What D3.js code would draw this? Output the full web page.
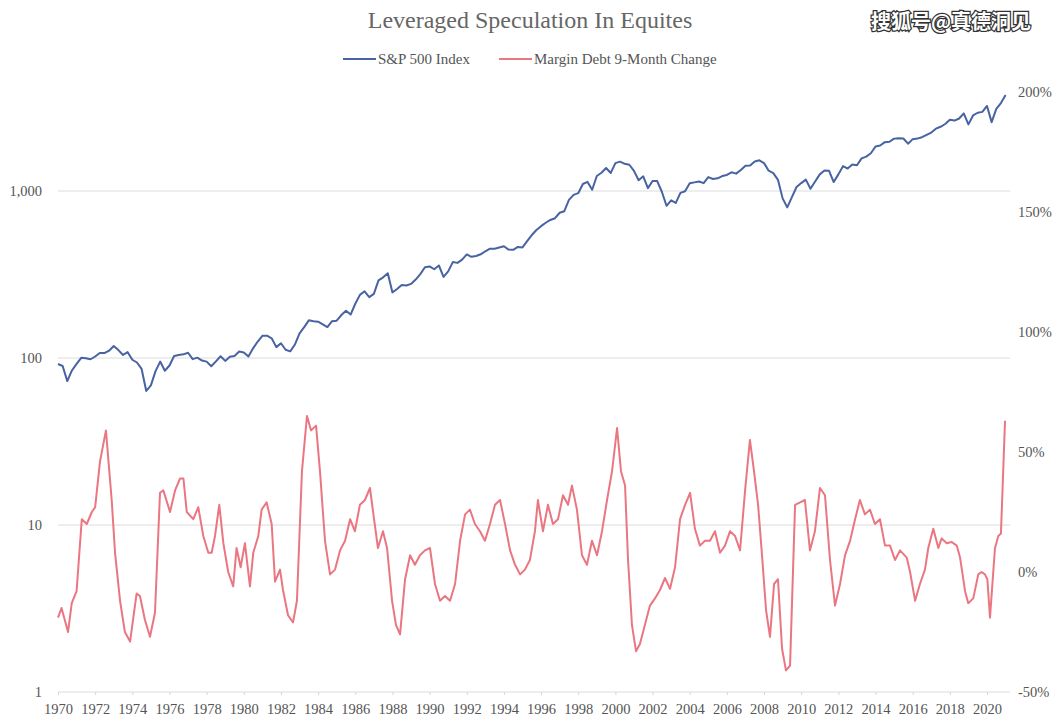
<!DOCTYPE html>
<html>
<head>
<meta charset="utf-8">
<script src="https://cdn.jsdelivr.net/npm/d3@7"></script>
<style>
  body { margin: 0; background: #fff; }
  text { font-family: 'Liberation Serif', 'DejaVu Serif', serif; }
</style>
</head>
<body>
<svg width="1059" height="726"></svg>
<script>
// S&P 500 quarter-end closes, starting Dec 1969
var spxStart = 1970
var spxValues = [
  92.1,
  89.6, 72.7, 84.2, 92.2,
  100.3, 99.7, 98.3, 102.1,
  107.2, 107.1, 110.6, 118.1,
  111.5, 104.3, 108.4, 97.6,
  94.0, 86.0, 63.5, 68.6,
  83.4, 95.2, 83.9, 90.2,
  102.8, 104.3, 105.2, 107.5,
  98.4, 100.5, 96.5, 95.1,
  89.2, 95.5, 102.5, 96.1,
  101.6, 102.9, 109.3, 107.9,
  102.1, 114.2, 125.5, 135.8,
  136.0, 131.2, 116.2, 122.6,
  112.0, 109.6, 120.4, 140.6,
  153.0, 168.1, 166.1, 164.9,
  159.2, 153.2, 166.1, 167.2,
  180.7, 191.9, 182.1, 211.3,
  238.9, 250.8, 231.3, 242.2,
  291.7, 304.0, 321.8, 247.1,
  258.9, 273.5, 271.9, 277.7,
  294.9, 318.0, 349.2, 353.4,
  339.9, 358.0, 306.1, 330.2,
  375.2, 371.2, 387.9, 417.1,
  403.7, 408.1, 417.8, 435.7,
  451.7, 450.5, 458.9, 466.5,
  445.8, 444.3, 462.7, 459.3,
  500.7, 544.8, 584.4, 615.9,
  645.5, 670.6, 687.3, 740.7,
  757.1, 885.1, 947.3, 970.4,
  1101.8, 1133.8, 1017.0, 1229.2,
  1286.4, 1372.7, 1282.7, 1469.3,
  1498.6, 1454.6, 1436.5, 1320.3,
  1160.3, 1224.4, 1040.9, 1148.1,
  1147.4, 989.8, 815.3, 879.8,
  848.2, 974.5, 996.0, 1111.9,
  1126.2, 1140.8, 1114.6, 1211.9,
  1180.6, 1191.3, 1228.8, 1248.3,
  1294.8, 1270.2, 1335.9, 1418.3,
  1420.9, 1503.4, 1526.8, 1468.4,
  1322.7, 1280.0, 1166.4, 903.3,
  797.9, 919.3, 1057.1, 1115.1,
  1169.4, 1030.7, 1141.2, 1257.6,
  1325.8, 1320.6, 1131.4, 1257.6,
  1408.5, 1362.2, 1440.7, 1426.2,
  1569.2, 1606.3, 1681.6, 1848.4,
  1872.3, 1960.2, 1972.3, 2058.9,
  2067.9, 2063.1, 1920.0, 2043.9,
  2059.7, 2098.9, 2168.3, 2238.8,
  2362.7, 2423.4, 2519.4, 2673.6,
  2640.9, 2718.4, 2914.0, 2506.9,
  2834.4, 2941.8, 2976.7, 3230.8,
  2584.6, 3100.3, 3363.0, 3756.1
]

// margin debt 9-month change (year, change in %)
var marginYears = [
  1970.00, 1970.19, 1970.54, 1970.74, 1971.00, 1971.28, 1971.55, 1971.82, 1972.00, 1972.26,
  1972.58, 1972.89, 1973.07, 1973.34, 1973.60, 1973.88, 1974.23, 1974.41, 1974.68, 1974.95,
  1975.22, 1975.49, 1975.67, 1976.03, 1976.30, 1976.57, 1976.75, 1976.93, 1977.28, 1977.55,
  1977.82, 1978.09, 1978.27, 1978.45, 1978.68, 1978.90, 1979.16, 1979.43, 1979.61, 1979.83,
  1980.06, 1980.33, 1980.51, 1980.78, 1980.96, 1981.23, 1981.50, 1981.68, 1981.95, 1982.11,
  1982.38, 1982.65, 1982.86, 1983.13, 1983.40, 1983.62, 1983.89, 1984.10, 1984.37, 1984.64,
  1984.91, 1985.18, 1985.45, 1985.72, 1985.98, 1986.25, 1986.52, 1986.79, 1987.01, 1987.22,
  1987.49, 1987.71, 1987.98, 1988.19, 1988.41, 1988.68, 1988.95, 1989.21, 1989.48, 1989.75,
  1990.02, 1990.29, 1990.56, 1990.83, 1991.10, 1991.37, 1991.64, 1991.91, 1992.17, 1992.44,
  1992.71, 1992.98, 1993.25, 1993.52, 1993.79, 1994.06, 1994.33, 1994.60, 1994.87, 1995.13,
  1995.40, 1995.67, 1995.83, 1996.10, 1996.37, 1996.64, 1996.91, 1997.18, 1997.45, 1997.66,
  1997.93, 1998.20, 1998.47, 1998.74, 1999.01, 1999.28, 1999.55, 1999.82, 2000.09, 2000.30,
  2000.52, 2000.68, 2000.89, 2001.11, 2001.32, 2001.59, 2001.86, 2002.13, 2002.40, 2002.67,
  2002.94, 2003.21, 2003.48, 2003.75, 2004.02, 2004.28, 2004.55, 2004.82, 2005.09, 2005.36,
  2005.63, 2005.90, 2006.17, 2006.44, 2006.71, 2006.98, 2007.24, 2007.46, 2007.68, 2007.89,
  2008.11, 2008.32, 2008.54, 2008.75, 2008.97, 2009.18, 2009.40, 2009.67, 2009.94, 2010.20,
  2010.47, 2010.74, 2011.01, 2011.28, 2011.55, 2011.82, 2012.09, 2012.36, 2012.63, 2012.90,
  2013.16, 2013.43, 2013.70, 2013.97, 2014.24, 2014.51, 2014.78, 2015.05, 2015.32, 2015.68,
  2015.86, 2016.13, 2016.39, 2016.66, 2016.84, 2017.11, 2017.38, 2017.56, 2017.83, 2018.10,
  2018.37, 2018.55, 2018.82, 2018.99, 2019.26, 2019.53, 2019.71, 2019.89, 2020.02, 2020.16,
  2020.43, 2020.61, 2020.75, 2020.97
]
var marginChange = [
  -19, -15, -25, -13, -8, 22, 20, 25, 27, 46,
  59, 30, 8, -12, -25, -29, -9, -10, -20, -27,
  -17, 33, 34, 25, 34, 39, 39, 25, 22, 27,
  15, 8, 8, 15, 28, 12, 0, -6, 10, 2,
  12, -6, 8, 15, 26, 29, 20, -4, 1, -7.5,
  -18, -21, -12, 42, 65, 59, 61, 42, 13, -1,
  1, 9, 13, 22, 17, 28, 30, 35, 22, 10,
  17, 10, -12, -22, -26, -3, 7, 3, 7, 9,
  10, -5, -12, -10, -12, -5, 13, 24, 26, 20,
  17, 13, 20, 28, 30, 20, 9, 3, -1, 1,
  5, 17, 30, 17, 28, 20, 22, 32, 28, 36,
  26, 7, 3, 13, 7, 17, 30, 42, 60, 42,
  36, 5, -22, -33, -30, -22, -14, -11, -7.5, -2.5,
  -7, 2, 22, 28, 33, 18, 11, 13, 13, 17,
  8, 11, 17, 15, 9, 34, 55, 42, 28, 7,
  -16, -27, -5, -3, -32, -41, -39, 28, 29, 30,
  9, 17, 35, 32, 5, -14, -5, 7, 13, 22,
  30, 24, 26, 20, 22, 11, 11, 5, 9, 6,
  0, -12, -5, 1, 10, 18, 10, 14, 12, 12.5,
  11, 6, -8, -13, -11, -1, 0, -1, -3, -19,
  10, 15, 16, 63
]

var yearTicks = d3.range(1970, 2021, 2)
var leftTicks = [1, 10, 100, 1000]
var rightTicks = [-0.5, 0, 0.5, 1, 1.5, 2]

var blue = '#4763a2'
var red = '#ea7682'

var svg = d3.select('svg')

var x = d3.scaleLinear().domain([1970, 2020]).range([58, 987])
var yLeft = d3.scaleLog().domain([1, 10000]).range([692, 24])
var yRight = d3.scaleLinear().domain([-0.5, 2]).range([692, 92])
var xEnd = x(2021.25)

// gridlines for the log axis
svg.append('g')
  .selectAll('line')
  .data(leftTicks)
  .enter()
  .append('line')
  .attr('x1', x(1970))
  .attr('x2', xEnd)
  .attr('y1', function(d) { return yLeft(d) })
  .attr('y2', function(d) { return yLeft(d) })
  .attr('stroke', '#dcdcdc')
  .attr('stroke-width', 1)

var xAxis = svg.append('g')
  .attr('transform', 'translate(0,' + yLeft(1) + ')')
  .call(d3.axisBottom(x).tickValues(yearTicks).tickFormat(d3.format('d')).tickSize(3).tickPadding(9))
xAxis.select('.domain').remove()
xAxis.selectAll('line').attr('stroke', '#d6d6d6')
xAxis.selectAll('text').attr('fill', '#555').style('font-size', '14.5px')

var leftAxis = svg.append('g')
  .attr('transform', 'translate(58,0)')
  .call(d3.axisLeft(yLeft).tickValues(leftTicks).tickFormat(d3.format(',')).tickSize(0).tickPadding(16))
leftAxis.select('.domain').remove()
leftAxis.selectAll('text').attr('fill', '#555').style('font-size', '14.5px')

var rightAxis = svg.append('g')
  .attr('transform', 'translate(1010,0)')
  .call(d3.axisRight(yRight).tickValues(rightTicks)
    .tickFormat(function(d) { return (d < 0 ? '-' : '') + Math.abs(Math.round(d * 100)) + '%' })
    .tickSize(0).tickPadding(8))
rightAxis.select('.domain').remove()
rightAxis.selectAll('text').attr('fill', '#555').style('font-size', '14.5px')

var spxLine = d3.line()
  .x(function(d, i) { return x(spxStart + i * 0.25) })
  .y(function(d) { return yLeft(d) })

var marginLine = d3.line()
  .x(function(d, i) { return x(marginYears[i]) })
  .y(function(d) { return yRight(d / 100) })

svg.append('path')
  .datum(marginChange)
  .attr('d', marginLine)
  .attr('fill', 'none')
  .attr('stroke', red)
  .attr('stroke-width', 2)
  .attr('stroke-linejoin', 'round')

svg.append('path')
  .datum(spxValues)
  .attr('d', spxLine)
  .attr('fill', 'none')
  .attr('stroke', blue)
  .attr('stroke-width', 2)
  .attr('stroke-linejoin', 'round')

svg.append('text')
  .attr('x', 530)
  .attr('y', 28)
  .attr('text-anchor', 'middle')
  .attr('fill', '#666')
  .style('font-size', '24px')
  .text('Leveraged Speculation In Equites')

var legend = [
  {name: 'S&P 500 Index', color: blue, x: 343},
  {name: 'Margin Debt 9-Month Change', color: red, x: 499}
]
var items = svg.selectAll('.legend')
  .data(legend)
  .enter()
  .append('g')
  .attr('transform', function(d) { return 'translate(' + d.x + ',59)' })
items.append('line')
  .attr('x1', 0).attr('x2', 33)
  .attr('stroke', function(d) { return d.color })
  .attr('stroke-width', 2)
items.append('text')
  .attr('x', 35)
  .attr('dy', '0.35em')
  .attr('fill', '#555')
  .style('font-size', '15px')
  .text(function(d) { return d.name })

// watermark
svg.append('text')
  .attr('x', 951)
  .attr('y', 29)
  .attr('text-anchor', 'middle')
  .attr('fill', '#fff')
  .attr('stroke', '#333')
  .attr('stroke-width', 2.5)
  .attr('paint-order', 'stroke')
  .style('font-family', "'Noto Sans CJK SC', sans-serif")
  .style('font-weight', 'bold')
  .style('font-size', '20px')
  .text('搜狐号@真德洞见')
</script>
</body>
</html>
